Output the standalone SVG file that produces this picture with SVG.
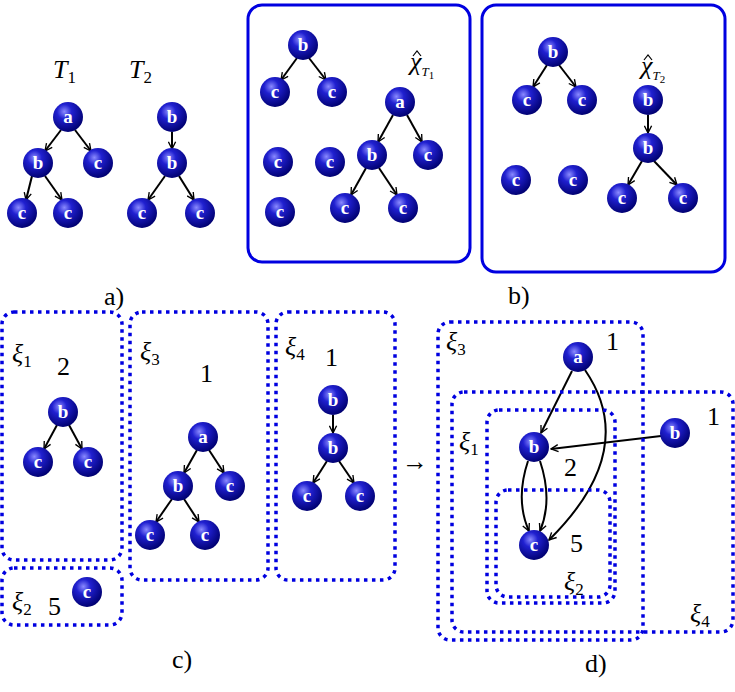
<svg xmlns="http://www.w3.org/2000/svg" width="735" height="692" viewBox="0 0 735 692">
<defs>
<radialGradient id="g" cx="0.38" cy="0.32" r="0.7">
<stop offset="0" stop-color="#8a8aff"/><stop offset="0.35" stop-color="#2020d0"/><stop offset="1" stop-color="#000070"/>
</radialGradient>
<marker id="ar" viewBox="0 0 10 10" refX="9" refY="5" markerWidth="9" markerHeight="9" orient="auto" markerUnits="userSpaceOnUse">
<path d="M1,1 L9,5 L1,9" fill="none" stroke="#000" stroke-width="1.5"/>
</marker>
</defs>
<style>
.n circle{fill:url(#g)}
.n text{fill:#fff;font-family:"Liberation Serif",serif;font-weight:bold;font-size:19px;text-anchor:middle}
.e{stroke:#000;stroke-width:2;fill:none;marker-end:url(#ar)}
.hat{stroke:#000;stroke-width:1.2;fill:none}
#labels text{font-family:"Liberation Serif","DejaVu Serif",serif;font-size:26px;fill:#000}
#labels text.m{font-style:italic}
#labels tspan.s{font-size:17px;font-style:normal}
#labels tspan.si{font-size:13px;font-style:italic}
#labels tspan.ss{font-size:11px;font-style:normal}
.box{fill:none;stroke:#0000e0;stroke-width:3}
.dot{fill:none;stroke:#0000e0;stroke-width:3.5;stroke-dasharray:3.5 4.5}
</style>
<g id="connectors">
<line class="e" x1="61" y1="130" x2="45" y2="151"/><line class="e" x1="75" y1="130" x2="91" y2="151"/>
<line class="e" x1="32" y1="176" x2="26" y2="200"/><line class="e" x1="45" y1="176" x2="62" y2="200"/>
<line class="e" x1="172" y1="132" x2="172" y2="149"/>
<line class="e" x1="165" y1="176" x2="148" y2="200"/><line class="e" x1="179" y1="176" x2="194" y2="200"/>
<line class="e" x1="297" y1="58" x2="281" y2="80"/><line class="e" x1="309" y1="58" x2="326" y2="80"/>
<line class="e" x1="393" y1="115" x2="378" y2="142"/><line class="e" x1="407" y1="115" x2="422" y2="142"/>
<line class="e" x1="366" y1="168" x2="351" y2="195"/><line class="e" x1="379" y1="168" x2="397" y2="195"/>
<line class="e" x1="547" y1="65" x2="533" y2="87"/><line class="e" x1="559" y1="65" x2="576" y2="87"/>
<line class="e" x1="648" y1="115" x2="648" y2="133"/>
<line class="e" x1="642" y1="161" x2="628" y2="185"/><line class="e" x1="654" y1="161" x2="677" y2="185"/>
<line class="e" x1="57" y1="425" x2="44" y2="449"/><line class="e" x1="69" y1="425" x2="82" y2="449"/>
<line class="e" x1="197" y1="450" x2="184" y2="473"/><line class="e" x1="209" y1="450" x2="224" y2="473"/>
<line class="e" x1="172" y1="499" x2="156" y2="522"/><line class="e" x1="184" y1="499" x2="199" y2="522"/>
<line class="e" x1="333" y1="415" x2="333" y2="433"/>
<line class="e" x1="327" y1="461" x2="313" y2="483"/><line class="e" x1="339" y1="461" x2="354" y2="483"/>
<line class="e" x1="572" y1="371" x2="541" y2="433"/>
<path class="e" d="M585,370 Q640,450 549,540"/>
<line class="e" x1="661" y1="436" x2="551" y2="449"/>
<path class="e" d="M528,461 Q515,500 529,531"/>
<path class="e" d="M540,461 Q553,500 540,531"/>
</g>
<g id="nodes">
<g class="n"><circle cx="68" cy="117" r="15"/><text x="68" y="123">a</text></g>
<g class="n"><circle cx="38" cy="163" r="15"/><text x="38" y="169">b</text></g>
<g class="n"><circle cx="98" cy="163" r="15"/><text x="98" y="169">c</text></g>
<g class="n"><circle cx="22" cy="213" r="15"/><text x="22" y="219">c</text></g>
<g class="n"><circle cx="68" cy="213" r="15"/><text x="68" y="219">c</text></g>
<g class="n"><circle cx="172" cy="117" r="15"/><text x="172" y="123">b</text></g>
<g class="n"><circle cx="172" cy="163" r="15"/><text x="172" y="169">b</text></g>
<g class="n"><circle cx="142" cy="213" r="15"/><text x="142" y="219">c</text></g>
<g class="n"><circle cx="200" cy="213" r="15"/><text x="200" y="219">c</text></g>
<g class="n"><circle cx="303" cy="45" r="15"/><text x="303" y="51">b</text></g>
<g class="n"><circle cx="275" cy="92" r="15"/><text x="275" y="98">c</text></g>
<g class="n"><circle cx="332" cy="92" r="15"/><text x="332" y="98">c</text></g>
<g class="n"><circle cx="278" cy="162" r="15"/><text x="278" y="168">c</text></g>
<g class="n"><circle cx="330" cy="162" r="15"/><text x="330" y="168">c</text></g>
<g class="n"><circle cx="280" cy="212" r="15"/><text x="280" y="218">c</text></g>
<g class="n"><circle cx="400" cy="102" r="15"/><text x="400" y="108">a</text></g>
<g class="n"><circle cx="372" cy="155" r="15"/><text x="372" y="161">b</text></g>
<g class="n"><circle cx="428" cy="155" r="15"/><text x="428" y="161">c</text></g>
<g class="n"><circle cx="345" cy="208" r="15"/><text x="345" y="214">c</text></g>
<g class="n"><circle cx="403" cy="208" r="15"/><text x="403" y="214">c</text></g>
<g class="n"><circle cx="553" cy="52" r="15"/><text x="553" y="58">b</text></g>
<g class="n"><circle cx="527" cy="100" r="15"/><text x="527" y="106">c</text></g>
<g class="n"><circle cx="582" cy="100" r="15"/><text x="582" y="106">c</text></g>
<g class="n"><circle cx="648" cy="100" r="15"/><text x="648" y="106">b</text></g>
<g class="n"><circle cx="648" cy="148" r="15"/><text x="648" y="154">b</text></g>
<g class="n"><circle cx="622" cy="198" r="15"/><text x="622" y="204">c</text></g>
<g class="n"><circle cx="683" cy="198" r="15"/><text x="683" y="204">c</text></g>
<g class="n"><circle cx="516" cy="180" r="15"/><text x="516" y="186">c</text></g>
<g class="n"><circle cx="573" cy="180" r="15"/><text x="573" y="186">c</text></g>
<g class="n"><circle cx="63" cy="412" r="15"/><text x="63" y="418">b</text></g>
<g class="n"><circle cx="38" cy="462" r="15"/><text x="38" y="468">c</text></g>
<g class="n"><circle cx="88" cy="462" r="15"/><text x="88" y="468">c</text></g>
<g class="n"><circle cx="87" cy="592" r="15"/><text x="87" y="598">c</text></g>
<g class="n"><circle cx="203" cy="437" r="15"/><text x="203" y="443">a</text></g>
<g class="n"><circle cx="178" cy="486" r="15"/><text x="178" y="492">b</text></g>
<g class="n"><circle cx="230" cy="486" r="15"/><text x="230" y="492">c</text></g>
<g class="n"><circle cx="150" cy="535" r="15"/><text x="150" y="541">c</text></g>
<g class="n"><circle cx="205" cy="535" r="15"/><text x="205" y="541">c</text></g>
<g class="n"><circle cx="333" cy="400" r="15"/><text x="333" y="406">b</text></g>
<g class="n"><circle cx="333" cy="448" r="15"/><text x="333" y="454">b</text></g>
<g class="n"><circle cx="307" cy="496" r="15"/><text x="307" y="502">c</text></g>
<g class="n"><circle cx="360" cy="496" r="15"/><text x="360" y="502">c</text></g>
<g class="n"><circle cx="578" cy="357" r="15"/><text x="578" y="363">a</text></g>
<g class="n"><circle cx="534" cy="447" r="15"/><text x="534" y="453">b</text></g>
<g class="n"><circle cx="675" cy="433" r="15"/><text x="675" y="439">b</text></g>
<g class="n"><circle cx="534" cy="545" r="15"/><text x="534" y="551">c</text></g>
</g>
<g id="boxes">
<rect class="box" x="248" y="5" width="222" height="257" rx="14"/>
<rect class="box" x="482" y="5" width="243" height="267" rx="14"/>
<rect class="dot" x="2" y="312" width="120" height="248" rx="12"/>
<rect class="dot" x="2" y="568" width="120" height="57" rx="12"/>
<rect class="dot" x="130" y="312" width="138" height="268" rx="12"/>
<rect class="dot" x="276" y="312" width="119" height="268" rx="12"/>
<rect class="dot" x="438" y="322" width="205" height="318" rx="12"/>
<rect class="dot" x="452" y="392" width="281" height="240" rx="12"/>
<rect class="dot" x="487" y="410" width="128" height="193" rx="12"/>
<rect class="dot" x="496" y="490" width="114" height="107" rx="12"/>
</g>
<g id="hats">
<path class="hat" d="M413,56 L417,51 L421,56"/>
<path class="hat" d="M644,60 L648,55 L652,60"/>
</g>
<g id="labels">
<text class="m" x="53" y="78">T<tspan class="s" dy="5">1</tspan></text>
<text class="m" x="129" y="78">T<tspan class="s" dy="5">2</tspan></text>
<text x="104" y="305">a)</text>
<text class="m" x="410" y="70">χ<tspan class="si" dy="6">T</tspan><tspan class="ss" dy="3">1</tspan></text>
<text class="m" x="641" y="74">χ<tspan class="si" dy="6">T</tspan><tspan class="ss" dy="3">2</tspan></text>
<text x="508" y="304">b)</text>
<text class="m" x="12" y="362">ξ<tspan class="s" dy="5">1</tspan></text>
<text x="57" y="375">2</text>
<text class="m" x="12" y="610">ξ<tspan class="s" dy="5">2</tspan></text>
<text x="48" y="615">5</text>
<text class="m" x="140" y="360">ξ<tspan class="s" dy="5">3</tspan></text>
<text x="200" y="382">1</text>
<text class="m" x="285" y="355">ξ<tspan class="s" dy="5">4</tspan></text>
<text x="325" y="366">1</text>
<text x="402" y="470">→</text>
<text x="172" y="668">c)</text>
<text class="m" x="446" y="350">ξ<tspan class="s" dy="5">3</tspan></text>
<text x="606" y="350">1</text>
<text class="m" x="459" y="450">ξ<tspan class="s" dy="5">1</tspan></text>
<text x="707" y="425">1</text>
<text x="564" y="476">2</text>
<text x="570" y="552">5</text>
<text class="m" x="564" y="590">ξ<tspan class="s" dy="5">2</tspan></text>
<text class="m" x="690" y="622">ξ<tspan class="s" dy="5">4</tspan></text>
<text x="585" y="672">d)</text>
</g>
</svg>
